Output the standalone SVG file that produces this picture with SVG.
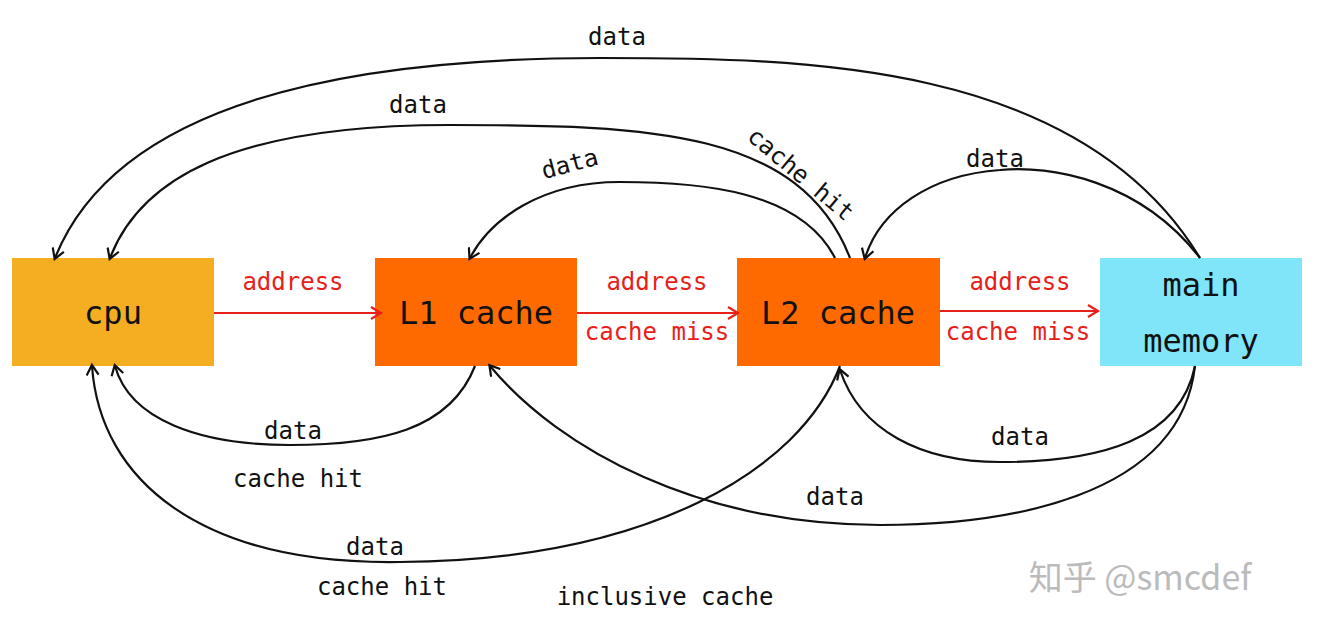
<svg xmlns="http://www.w3.org/2000/svg" width="1338" height="621" viewBox="0 0 1338 621">
<style>
.t{font-family:"DejaVu Sans Mono","Liberation Mono",monospace;font-size:24px;text-anchor:middle;fill:#111}
.r{fill:#e8201a;font-size:24px}
.n{font-size:32px}
.c{fill:none;stroke:#111;stroke-width:2.2}
.rc{fill:none;stroke:#e8201a;stroke-width:2.2}
</style>
<defs>
<marker id="ab" markerWidth="14" markerHeight="14" refX="10" refY="7" orient="auto" markerUnits="userSpaceOnUse"><path d="M1,1 L11,7 L1,13" fill="none" stroke="#111" stroke-width="2.2"/></marker>
<marker id="ar" markerWidth="14" markerHeight="14" refX="10" refY="7" orient="auto" markerUnits="userSpaceOnUse"><path d="M1,1 L11,7 L1,13" fill="none" stroke="#e8201a" stroke-width="2.2"/></marker>
</defs>
<rect width="1338" height="621" fill="#fff"/>
<g id="cpu"><rect x="12" y="258" width="202" height="108" fill="#F5AE22"/><text class="t n" x="113" y="324">cpu</text></g>
<g id="l1"><rect x="375" y="258" width="202" height="108" fill="#FF6A00"/><text class="t n" x="476" y="324">L1 cache</text></g>
<g id="l2"><rect x="737" y="258" width="203" height="108" fill="#FF6A00"/><text class="t n" x="838" y="324">L2 cache</text></g>
<g id="mem"><rect x="1100" y="258" width="202" height="108" fill="#80E5F8"/><text class="t n" x="1201" y="296">main</text><text class="t n" x="1201" y="352">memory</text></g>
<g id="connectors">
<path class="rc" d="M214,313 L380,313" marker-end="url(#ar)"/>
<path class="rc" d="M577,313 L737,313" marker-end="url(#ar)"/>
<path class="rc" d="M940,311 L1097,311" marker-end="url(#ar)"/>
<path class="c" d="M1200,258 C1080,60 800,58 600,58 C300,58 110,120 55,258" marker-end="url(#ab)"/>
<path class="c" d="M850,258 C800,130 650,125 450,125 C230,125 140,180 110,258" marker-end="url(#ab)"/>
<path class="c" d="M835,258 C800,190 700,182 620,182 C540,182 490,220 470,258" marker-end="url(#ab)"/>
<path class="c" d="M1200,258 C1140,180 1050,165 1000,170 C930,175 880,210 865,258" marker-end="url(#ab)"/>
<path class="c" d="M475,366 C450,430 380,445 290,445 C200,445 130,420 115,366" marker-end="url(#ab)"/>
<path class="c" d="M840,366 C800,470 650,560 400,562 C200,565 100,480 92,366" marker-end="url(#ab)"/>
<path class="c" d="M1195,366 C1180,440 1100,462 1000,462 C920,462 860,430 840,370" marker-end="url(#ab)"/>
<path class="c" d="M1195,366 C1180,500 1000,525 880,525 C700,525 560,450 490,366" marker-end="url(#ab)"/>
</g>
<g id="labels">
<text class="t r" x="293" y="290">address</text>
<text class="t r" x="657" y="290">address</text>
<text class="t r" x="657" y="340">cache miss</text>
<text class="t r" x="1020" y="290">address</text>
<text class="t r" x="1018" y="340">cache miss</text>
<text class="t" x="617" y="45">data</text>
<text class="t" x="418" y="113">data</text>
<text class="t" x="570" y="172" transform="rotate(-15 570 165)">data</text>
<text class="t" x="800" y="182" transform="rotate(40 800 175)">cache hit</text>
<text class="t" x="995" y="167">data</text>
<text class="t" x="293" y="439">data</text>
<text class="t" x="298" y="487">cache hit</text>
<text class="t" x="375" y="555">data</text>
<text class="t" x="382" y="595">cache hit</text>
<text class="t" x="1020" y="445">data</text>
<text class="t" x="835" y="505">data</text>
<text class="t" x="665" y="605">inclusive cache</text>
<text x="1140" y="590" font-family="Noto Sans CJK SC,sans-serif" font-size="34" fill="#bbb" text-anchor="middle">知乎 @smcdef</text>
</g>
</svg>
